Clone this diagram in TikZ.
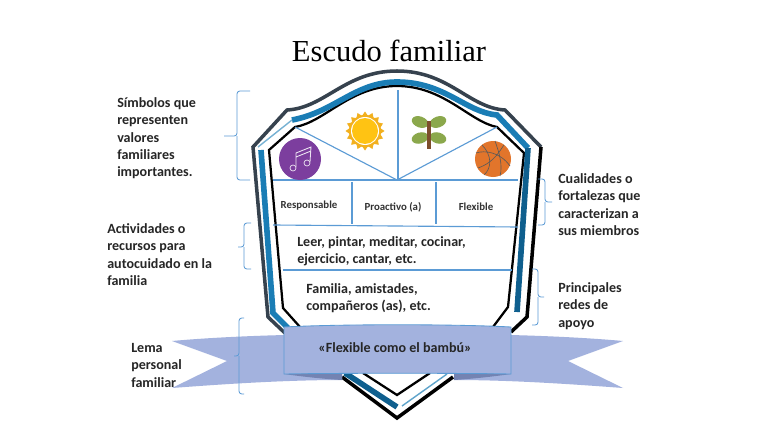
\documentclass[tikz,border=0pt]{standalone}
\usepackage{fontspec}
\setmainfont{Carlito}
\newfontfamily\titlefont{Liberation Serif}
\usepackage{tikz}
\usetikzlibrary{positioning}
\definecolor{linea}{HTML}{5B9BD5}
\definecolor{cinta}{HTML}{A3B2DE}
\definecolor{cintaosc}{HTML}{7483B2}
\definecolor{banda}{HTML}{1A7DB5}
\definecolor{bandaosc}{HTML}{0F5F8E}
\definecolor{pizarra}{HTML}{36424E}
\definecolor{morado}{HTML}{7C3E9E}
\definecolor{rayo}{HTML}{F2B01E}
\definecolor{sol}{HTML}{FFC313}
\definecolor{hoja}{HTML}{8BA84C}
\definecolor{tallo}{HTML}{7D4E2C}
\definecolor{balon}{HTML}{E2752B}
\tikzset{
    etiqueta/.style={anchor=north west, align=left, inner sep=0pt, font=\bfseries\fontsize{10}{12.4}\selectfont, text=black!85},
    celda/.style={inner sep=0pt, font=\bfseries\fontsize{7.7}{9}\selectfont, text=black!80},
    llave/.style={draw=linea, line width=.6pt, rounded corners=2pt},
    divisor/.style={draw=linea, line width=.8pt},
    borde/.style={draw=black, line width=2.5pt, line join=miter},
    bandazul/.style={draw=banda, line width=4pt, line join=miter},
    finas/.style={draw=black!65, line width=.45pt}
}
\begin{document}
\begin{tikzpicture}[x=0.025cm, y=-0.025cm]
    \useasboundingbox (0,0) rectangle (768,433);
    \fill[white] (0,0) rectangle (768,433);

    \node[anchor=base, inner sep=0pt, font=\titlefont\fontsize{21.7}{24}\selectfont] (titulo) at (389,62) {Escudo familiar};

    % escudo
    \draw[borde, draw=pizarra] (287,335) -- (268,317) -- (253,147) -- (287,110) .. controls (325,108) and (345,71) .. (397,71) .. controls (449,71) and (469,108) .. (505,110) -- (541,147);
    \draw[borde] (541,147) -- (527,317) -- (511,332);
    \draw[borde] (342,377) -- (397,418) -- (453,377);
    \draw[draw=black, line width=1.6pt] (300,327) -- (283,308) -- (269,150) -- (295,127) .. controls (325,122) and (350,86) .. (397,86) .. controls (444,86) and (470,122) .. (497,127) -- (524,153) -- (508,307) -- (493,327);
    \draw[draw=black, line width=1.6pt] (363,373) -- (397,395) -- (430,373);
    \draw[bandazul] (288,328) -- (273,313) -- (261,150);
    \draw[bandazul] (292,120) .. controls (335,112) and (355,82) .. (397,82) .. controls (445,82) and (465,112) .. (497,115) -- (528,148);
    \draw[bandazul, draw=bandaosc] (528,148) -- (517,312);
    \draw[draw=banda!60, line width=1pt] (258,147) -- (292,120);
    \draw[bandazul, draw=bandaosc] (345,373) -- (397,407);
    \draw[draw=banda!70, line width=1pt] (402,406) -- (447,374);

    % divisiones
    \draw[divisor] (273,180) -- (518,180);
    \draw[divisor] (295,127) -- (397,180) -- (497,127);
    \draw[divisor] (398,90) -- (398,180);
    \draw[divisor] (352,182) -- (352,224);
    \draw[divisor] (436,182) -- (436,224);
    \draw[divisor] (273,225) -- (518,227);
    \draw[divisor] (283,270) -- (512,270);

    % simbolos
    \fill[morado] (300,159) circle (21);
    \draw[white!85!morado, line width=.5pt] (293,168) circle (3) (307,163) circle (3);
    \draw[white!85!morado, line width=.6pt] (296,167) -- (296,153) -- (311,147) -- (310,162) (296,157) -- (311,151);
    \fill[rayo] (365,131) circle (16);
    \foreach \ang in {0,22.5,...,337.5}
        \fill[rayo] (365,131) +(\ang-11:15.5) -- +(\ang:19.5) -- +(\ang+11:15.5) -- cycle;
    \fill[white] (365,131) circle (14);
    \fill[sol] (365,131) circle (13);
    \fill[hoja, rotate around={-20:(420,122)}] (420,122) ellipse (8.5 and 5.5);
    \fill[hoja, rotate around={20:(438,122)}] (438,122) ellipse (8.5 and 5.5);
    \fill[hoja, rotate around={15:(420,138)}] (420,138) ellipse (8.5 and 5.5);
    \fill[hoja, rotate around={-15:(438,138)}] (438,138) ellipse (8.5 and 5.5);
    \draw[tallo, line width=2.4pt] (429,121) -- (429,149);
    \fill[balon] (493,159) circle (18);
    \draw[finas] (476,153) .. controls (485,150) and (500,152) .. (510,166);
    \draw[finas] (482,145) .. controls (492,155) and (492,168) .. (484,175);
    \draw[finas] (495,141) .. controls (499,152) and (503,165) .. (500,176);
    \draw[finas] (504,145) .. controls (500,150) and (495,162) .. (478,168);

    % cinta
    \fill[cinta] (285,335) .. controls (245,336) and (205,338) .. (172,341) -- (227,361) -- (172,388) .. controls (225,384) and (285,380) .. (342,380) -- (342,370) -- (285,370) -- cycle;
    \fill[cinta] (510,335) .. controls (550,336) and (590,338) .. (623,341) -- (568,361) -- (623,388) .. controls (570,384) and (510,380) .. (454,380) -- (454,370) -- (510,370) -- cycle;
    \fill[cintaosc] (284,374) .. controls (305,377) and (325,379) .. (342,380) -- (342,370) -- cycle;
    \fill[cintaosc] (511,374) .. controls (490,377) and (470,379) .. (454,380) -- (454,370) -- cycle;
    \filldraw[fill=cinta, draw=linea, line width=.6pt] (284,327) .. controls (340,324) and (455,324) .. (511,327) -- (511,374) .. controls (455,373) and (340,373) .. (284,374) -- cycle;
    \node[inner sep=0pt, font=\bfseries\fontsize{10}{12}\selectfont, text=black!85] (lema) at (395,348) {«Flexible como el bambú»};

    % textos de las celdas
    \node[celda] (responsable) at (309,206) {Responsable};
    \node[celda] (proactivo) at (393,207) {Proactivo (a)};
    \node[celda] (flexible) at (476,207) {Flexible};
    \node[etiqueta] (leer) at (297,236) {Leer, pintar, meditar, cocinar,\\ejercicio, cantar, etc.};
    \node[etiqueta] (familia) at (306,283) {Familia, amistades,\\compañeros (as), etc.};

    % etiquetas y llaves
    \node[etiqueta] (simbolos) at (117,97) {Símbolos que\\representen\\valores\\familiares\\importantes.};
    \node[etiqueta] (actividades) at (107,223) {Actividades o\\recursos para\\autocuidado en la\\familia};
    \node[etiqueta] (lemafam) at (131,343) {Lema\\personal\\familiar};
    \node[etiqueta] (cualidades) at (558,173) {Cualidades o\\fortalezas que\\caracterizan a\\sus miembros};
    \node[etiqueta] (redes) at (558,282) {Principales\\redes de\\apoyo};

    \draw[llave] (250,91) -- (237,91) -- (237,136) -- (224,136) (237,136) -- (237,180) -- (250,180);
    \draw[llave] (251,223) -- (244,223) -- (244,247) -- (238,247) (244,247) -- (244,269) -- (251,269);
    \draw[llave] (244,318) -- (239,318) -- (239,356) -- (234,356) (239,356) -- (239,394) -- (244,394);
    \draw[llave] (538,179) -- (545,179) -- (545,202) -- (552,202) (545,202) -- (545,225) -- (538,225);
    \draw[llave] (532,269) -- (538,269) -- (538,297) -- (544,297) (538,297) -- (538,325) -- (532,325);
\end{tikzpicture}
\end{document}
